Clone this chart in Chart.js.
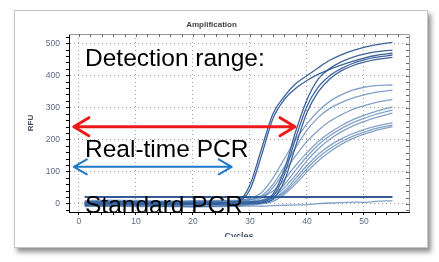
<!DOCTYPE html>
<html>
<head>
<meta charset="utf-8">
<script src="https://cdn.jsdelivr.net/npm/chart.js@4.4.1/dist/chart.umd.min.js"></script>
<style>
  html, body { margin: 0; padding: 0; background: #fff; }
  body { width: 439px; height: 262px; position: relative; overflow: hidden; font-family: "Liberation Sans", Arial, sans-serif; }
  #card {
    position: absolute; left: 14px; top: 10px; width: 412px; height: 236px;
    background: #fff; border: 1px solid #c4c4c4;
    box-shadow: 3px 4px 5px rgba(0, 0, 0, 0.45);
  }
  #wrap { position: absolute; left: 14px; top: 10px; width: 414px; height: 227px; overflow: hidden; }
  .big { position: absolute; font-size: 24.5px; line-height: 24px; color: #000; white-space: nowrap; }
</style>
</head>
<body>
<div id="card"></div>
<div id="wrap"><canvas id="ampChart" width="414" height="240"></canvas></div>
<div class="big" style="left:85px; top:46px;">Detection range:</div>
<div class="big" style="left:85px; top:137px;">Real-time PCR</div>
<div class="big" style="left:85px; top:193px;">Standard PCR</div>

<script>
const cycles = [1, 5, 10, 15, 20, 25, 28, 30, 32, 34, 36, 38, 40, 42, 44, 46, 48, 50, 52, 55];

// early, steep curves
const early1 = [3, 5, 4, 2, 3, 4, 10, 60, 170, 280, 335, 375, 400, 425, 448, 465, 478, 488, 496, 504];
const early2 = [-2, 0, 1, -1, 0, 2, 8, 45, 150, 265, 325, 360, 385, 405, 420, 433, 445, 455, 463, 470];
// late, steep curves
const late1 = [6, 8, 7, 5, 6, 6, 6, 7, 10, 30, 105, 225, 325, 390, 422, 443, 457, 467, 474, 480];
const late2 = [1, 2, 3, 2, 1, 2, 3, 4, 6, 22, 90, 205, 305, 365, 400, 422, 438, 449, 457, 464];
const late3 = [-4, -3, -2, -3, -2, -1, 0, 1, 3, 15, 70, 180, 285, 350, 390, 415, 431, 442, 450, 457];
// gentle curves, middle plateau
const mid1 = [10, 12, 11, 9, 10, 11, 12, 18, 35, 80, 140, 200, 250, 290, 320, 340, 355, 364, 369, 371];
const mid2 = [4, 5, 6, 5, 4, 5, 7, 12, 25, 60, 115, 175, 230, 270, 298, 316, 330, 340, 348, 355];
const mid3 = [0, 1, 2, 1, 0, 1, 3, 8, 18, 50, 100, 150, 195, 230, 258, 278, 295, 306, 316, 326];
// gentle curves, low plateau
const low1 = [8, 9, 8, 7, 8, 9, 10, 14, 22, 40, 75, 120, 160, 195, 222, 244, 262, 276, 288, 303];
const low2 = [2, 3, 4, 3, 2, 3, 4, 6, 12, 28, 60, 105, 148, 185, 213, 235, 253, 267, 279, 293];
const low3 = [-6, -5, -4, -5, -6, -5, -3, 0, 6, 20, 50, 90, 135, 172, 202, 225, 243, 257, 269, 283];
const low4 = [5, 6, 5, 4, 5, 6, 6, 7, 10, 18, 40, 80, 120, 155, 182, 203, 219, 232, 242, 253];
const low5 = [-1, 0, 1, 0, -1, 0, 1, 2, 5, 14, 35, 70, 110, 145, 172, 194, 211, 224, 235, 246];
const low6 = [-8, -7, -6, -7, -8, -6, -5, -3, 0, 8, 30, 62, 100, 135, 163, 186, 204, 218, 229, 241];
// flat threshold line and a noisy negative
const flat = [22, 22, 22, 22, 22, 22, 22, 22, 22, 22, 22, 22, 22, 22, 22, 22, 22, 22, 22, 22];
const noise = [-5, -6, -8, -8, -9, -8, -7, -6, -7, -5, -4, -3, -2, 1, 3, 4, 6, 5, 8, 10];

const steep = [early1, early2, late1, late2, late3];
const gentle = [mid1, mid2, mid3, low1, low2, low3, low4, low5, low6, noise];

const yMarks = [0, 100, 200, 300, 400, 500];
const xMarks = [0, 10, 20, 30, 40, 50];

function toPoints(vals) {
  return vals.map((v, i) => ({ x: cycles[i], y: v }));
}

const datasets = [];
gentle.forEach(s => datasets.push({ data: toPoints(s), borderColor: "rgba(55, 105, 165, 0.62)", borderWidth: 1.3 }));
steep.forEach(s => datasets.push({ data: toPoints(s), borderColor: "rgba(28, 72, 138, 0.85)", borderWidth: 1.3 }));
datasets.push({ data: toPoints(flat), borderColor: "rgba(28, 72, 138, 0.9)", borderWidth: 2 });

function arrow(ctx, x1, x2, y, color, width, len, half) {
  ctx.strokeStyle = color;
  ctx.lineWidth = width;
  ctx.lineCap = "round";
  ctx.lineJoin = "round";
  ctx.beginPath();
  ctx.moveTo(x1, y); ctx.lineTo(x2, y);
  ctx.moveTo(x1 + len, y - half); ctx.lineTo(x1, y); ctx.lineTo(x1 + len, y + half);
  ctx.moveTo(x2 - len, y - half); ctx.lineTo(x2, y); ctx.lineTo(x2 - len, y + half);
  ctx.stroke();
}

// frame on top/right with small inner ticks, plus the two range arrows
const framePlugin = {
  id: "frame",
  afterDatasetsDraw(chart) {
    const { ctx, chartArea: a, scales: { x, y } } = chart;
    ctx.save();
    ctx.strokeStyle = "#9a9a9a";
    ctx.lineWidth = 1;
    ctx.beginPath();
    ctx.moveTo(a.left, a.top + 0.5); ctx.lineTo(a.right + 0.5, a.top + 0.5); ctx.lineTo(a.right + 0.5, a.bottom);
    ctx.stroke();
    ctx.strokeStyle = "#666";
    ctx.beginPath();
    for (let c = 0; c <= 56; c += 2) {
      const px = Math.round(x.getPixelForValue(c)) + 0.5;
      ctx.moveTo(px, a.top); ctx.lineTo(px, a.top + 3);
    }
    for (let v = -20; v <= 520; v += 20) {
      const py = Math.round(y.getPixelForValue(v)) + 0.5;
      ctx.moveTo(a.right, py); ctx.lineTo(a.right - 3, py);
    }
    ctx.stroke();

    arrow(ctx, x.getPixelForValue(-0.9), x.getPixelForValue(37.9), y.getPixelForValue(241), "#ee1b1b", 3, 15, 9);
    arrow(ctx, x.getPixelForValue(-0.9), x.getPixelForValue(26.8), y.getPixelForValue(116), "#1f78c8", 2, 13, 7.5);
    ctx.restore();
  }
};

const tickFont = { family: "Liberation Sans", size: 8.5 };

new Chart(document.getElementById("ampChart").getContext("2d"), {
  type: "line",
  data: { datasets: datasets },
  options: {
    responsive: false,
    animation: false,
    devicePixelRatio: 1,
    layout: { padding: { left: 0, right: 19, top: 0, bottom: 0 } },
    elements: {
      point: { radius: 0 },
      line: { tension: 0.4, cubicInterpolationMode: "monotone", fill: false }
    },
    plugins: {
      legend: { display: false },
      tooltip: { enabled: false },
      title: {
        display: true,
        text: "Amplification",
        color: "#444",
        font: { family: "Liberation Sans", size: 8, weight: "bold" },
        padding: { top: 10, bottom: 4.4 }
      }
    },
    scales: {
      x: {
        type: "linear",
        min: -1.75,
        max: 57.9,
        afterFit: s => { s.height = 38; },
        border: { display: true, color: "#000", width: 1, dash: [1, 3] },
        grid: {
          color: c => xMarks.includes(c.tick.value) ? "#a0a0a0" : "transparent",
          tickColor: "#000",
          tickLength: 3
        },
        ticks: {
          stepSize: 2,
          includeBounds: false,
          autoSkip: false,
          maxRotation: 0,
          padding: 2,
          color: "#5b6b88",
          font: tickFont,
          callback: v => xMarks.includes(v) ? String(v) : ""
        },
        title: {
          display: true,
          text: "Cycles",
          color: "#4a5570",
          font: { family: "Liberation Sans", size: 9, weight: "bold" },
          padding: { top: 0, bottom: 8.5 }
        }
      },
      y: {
        min: -25,
        max: 530,
        afterFit: s => { s.width = 55; },
        border: { display: true, color: "#000", width: 1, dash: [1, 3] },
        grid: {
          color: c => yMarks.includes(c.tick.value) ? "#a0a0a0" : "transparent",
          tickColor: "#000",
          tickLength: 3
        },
        ticks: {
          stepSize: 20,
          includeBounds: false,
          autoSkip: false,
          padding: 6,
          color: "#5b6b88",
          font: tickFont,
          callback: v => yMarks.includes(v) ? String(v) : ""
        },
        title: {
          display: true,
          text: "RFU",
          color: "#3e4a66",
          font: { family: "Liberation Sans", size: 8, weight: "bold" },
          padding: { top: 12, bottom: 0 }
        }
      }
    }
  },
  plugins: [framePlugin]
});
</script>
</body>
</html>
